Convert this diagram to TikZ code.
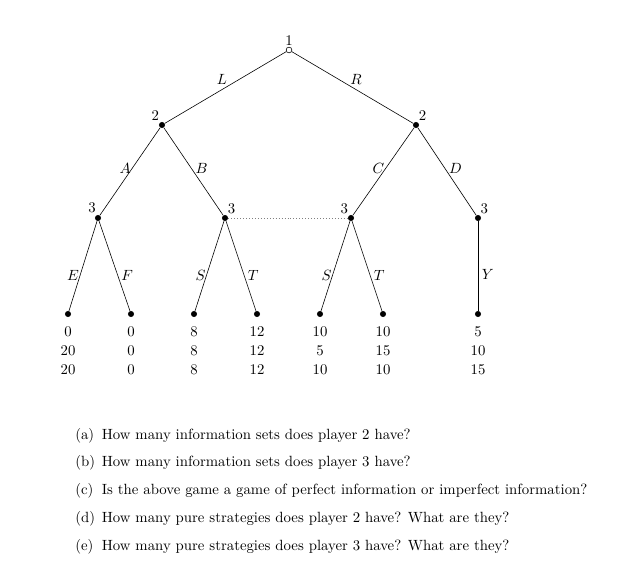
\documentclass[tikz,border=0pt]{standalone}
\usepackage{amsmath, amssymb}
\usetikzlibrary{positioning}
\tikzset{>=latex}
\tikzset{font=\normalsize}
\tikzset{
  move/.style={circle, fill=black, inner sep=0pt, minimum size=4.1pt},
  chance/.style={circle, draw=black, thin, fill=white, inner sep=0pt, minimum size=3.9pt},
  edgelft/.style={left, inner sep=0.6pt},
  edgergt/.style={right, inner sep=2.4pt},
  edgetop/.style={above, inner sep=3.1pt},
  pay/.style={align=center, inner sep=0pt},
  infoset/.style={gray, dash pattern=on 0.5pt off 1.5pt},
}

\begin{document}
\begin{tikzpicture}[x=0.676pt, y=-0.676pt]
  \useasboundingbox (0,0) rectangle (623,562);
  % decision nodes
  \node[chance, label={[inner sep=1pt]above:1}] (r) at (289,50) {};
  \node[move, label={[inner sep=0.8pt]117:2}] (p2l) at (162,125) {};
  \node[move, label={[inner sep=0.8pt]63:2}] (p2r) at (416,125) {};
  \node[move, label={[inner sep=0.8pt]103:3}] (p3a) at (98,218) {};
  \node[move, label={[inner sep=0.8pt]65:3}] (p3b) at (225,218) {};
  \node[move, label={[inner sep=0.8pt]115:3}] (p3c) at (351,218) {};
  \node[move, label={[inner sep=0.8pt]72:3}] (p3d) at (478,218) {};
  % terminal nodes
  \node[move] (la) at (68,314) {};
  \node[move] (lb) at (131,314) {};
  \node[move] (lc) at (194,314) {};
  \node[move] (ld) at (257,314) {};
  \node[move] (le) at (320,314) {};
  \node[move] (lf) at (383,314) {};
  \node[move] (lg) at (478,314) {};
  % payoffs
  \node[pay] (ya) at (68,351) {0\\[0.8pt]20\\[0.8pt]20};
  \node[pay] (yb) at (131,351) {0\\[0.8pt]0\\[0.8pt]0};
  \node[pay] (yc) at (194,351) {8\\[0.8pt]8\\[0.8pt]8};
  \node[pay] (yd) at (257,351) {12\\[0.8pt]12\\[0.8pt]12};
  \node[pay] (ye) at (320,351) {10\\[0.8pt]5\\[0.8pt]10};
  \node[pay] (yf) at (383,351) {10\\[0.8pt]15\\[0.8pt]10};
  \node[pay] (yg) at (478,351) {5\\[0.8pt]10\\[0.8pt]15};
  % branches
  \draw (r) -- node[edgetop, pos=0.53] {$L$} (p2l);
  \draw (r) -- node[edgetop, pos=0.53] {$R$} (p2r);
  \draw (p2l) -- node[edgelft, pos=0.47] {$A$} (p3a);
  \draw (p2l) -- node[edgergt, pos=0.47] {$B$} (p3b);
  \draw (p2r) -- node[edgelft, pos=0.47] {$C$} (p3c);
  \draw (p2r) -- node[edgergt, pos=0.47] {$D$} (p3d);
  \draw (p3a) -- node[edgelft, pos=0.6] {$E$} (la);
  \draw (p3a) -- node[edgergt, pos=0.6] {$F$} (lb);
  \draw (p3b) -- node[edgelft, pos=0.6] {$S$} (lc);
  \draw (p3b) -- node[edgergt, pos=0.6] {$T$} (ld);
  \draw (p3c) -- node[edgelft, pos=0.6] {$S$} (le);
  \draw (p3c) -- node[edgergt, pos=0.6] {$T$} (lf);
  \draw (p3d) -- node[edgergt, pos=0.6] {$Y$} (lg);
  % information set of player 3
  \draw[infoset] (p3b) -- (p3c);
  % questions
  \foreach \lab/\txt/\y in {
      a/How many information sets does player 2 have?/436,
      b/How many information sets does player 3 have?/463,
      c/Is the above game a game of perfect information or imperfect information?/491,
      d/How many pure strategies does player 2 have? What are they?/519,
      e/How many pure strategies does player 3 have? What are they?/547}{
    \node[anchor=west, inner sep=0pt] (k\lab) at (75,\y) {(\lab)};
    \node[anchor=west, inner sep=0pt] (q\lab) at (101.5,\y) {\txt};
  }
\end{tikzpicture}
\end{document}
